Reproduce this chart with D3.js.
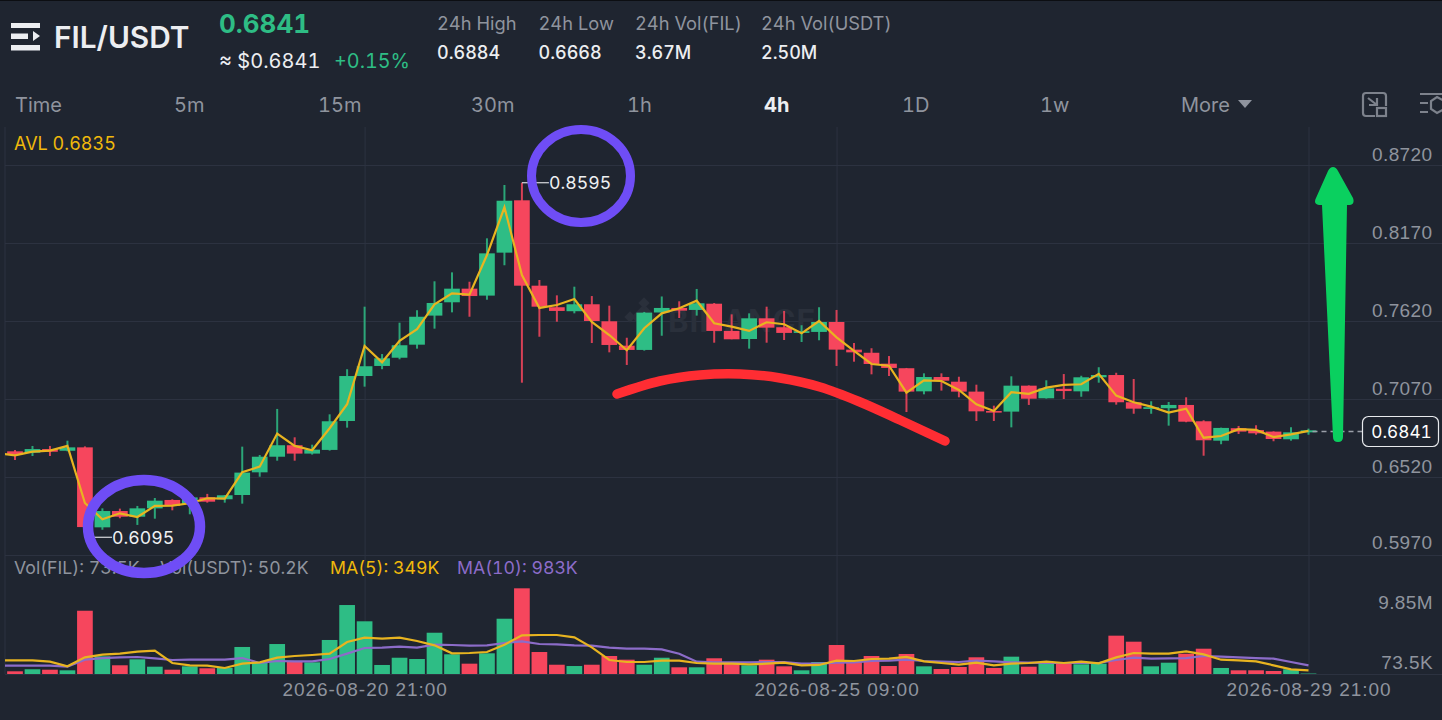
<!DOCTYPE html>
<html><head><meta charset="utf-8">
<script src="https://cdn.jsdelivr.net/npm/d3@7/dist/d3.min.js"></script>
<style>
html,body{margin:0;padding:0;background:#1f2530;overflow:hidden}
svg{display:block;font-family:Inter,"Open Sans",sans-serif;font-variant-numeric:tabular-nums}
</style></head><body><svg id="c" width="1442" height="720"></svg>
<script>
const opens=[.6701,.6691,.6717,.6705,.6729,.6165,.6280,.6240,.6299,.6358,.6330,.6377,.6363,.6393,.6553,.6663,.6744,.6685,.6711,.6915,.7232,.7303,.7361,.7453,.7658,.7752,.7848,.7799,.8102,.8471,.7869,.7717,.7689,.7738,.7618,.7446,.7416,.7680,.7712,.7698,.7742,.7550,.7493,.7639,.7576,.7536,.7543,.7613,.7418,.7396,.7319,.7287,.7124,.7225,.7192,.7122,.6985,.6981,.7164,.7075,.7142,.7124,.7223,.7239,.7047,.7000,.7005,.7028,.6913,.6776,.6864,.6851,.6840,.6786,.6835];
const highs=[.6710,.6739,.6739,.6776,.6736,.6299,.6297,.6316,.6372,.6363,.6379,.6401,.6393,.6734,.6675,.7000,.6800,.6748,.6962,.7280,.7721,.7387,.7608,.7696,.7900,.7963,.7897,.8203,.8579,.8595,.7909,.7801,.7862,.7796,.7728,.7502,.7684,.7793,.7759,.7846,.7747,.7667,.7674,.7721,.7691,.7590,.7717,.7698,.7465,.7428,.7373,.7289,.7251,.7251,.7227,.7171,.7023,.7230,.7166,.7202,.7246,.7234,.7294,.7255,.7211,.7054,.7049,.7082,.6920,.6868,.6880,.6885,.6842,.6871,.6861];
const lows=[.6640,.6668,.6668,.6701,.6160,.6148,.6229,.6182,.6226,.6285,.6257,.6339,.6339,.6332,.6522,.6635,.6635,.6678,.6706,.6868,.7157,.7280,.7350,.7425,.7566,.7681,.7650,.7770,.8013,.7185,.7509,.7615,.7674,.7465,.7399,.7310,.7411,.7516,.7641,.7658,.7467,.7491,.7425,.7467,.7486,.7472,.7484,.7303,.7333,.7244,.7232,.6978,.7103,.7129,.7082,.6915,.6915,.6870,.7028,.7073,.7070,.7086,.7185,.7030,.6966,.6966,.6882,.6906,.6670,.6751,.6823,.6818,.6772,.6776,.6818];
const closes=[.6682,.6717,.6698,.6729,.6167,.6280,.6240,.6299,.6353,.6316,.6376,.6346,.6391,.6551,.6663,.6744,.6685,.6713,.6913,.7232,.7301,.7357,.7449,.7650,.7747,.7848,.7796,.8097,.8468,.7869,.7721,.7691,.7738,.7620,.7451,.7416,.7679,.7712,.7693,.7745,.7550,.7491,.7639,.7573,.7536,.7548,.7613,.7418,.7399,.7317,.7289,.7122,.7225,.7199,.7122,.6983,.6974,.7164,.7072,.7145,.7126,.7223,.7239,.7047,.7002,.7012,.7028,.6910,.6779,.6866,.6840,.6828,.6788,.6835,.6849];
// first value of the three lines belongs to the candle just left of the visible window
const avl=[.6687,.6673,.6699,.6706,.6739,.6337,.6222,.6264,.6238,.6316,.6318,.6335,.6370,.6367,.6554,.6593,.6826,.6739,.6709,.6864,.7033,.7444,.7329,.7481,.7562,.7738,.7815,.7806,.8085,.8422,.7944,.7712,.7733,.7775,.7613,.7521,.7414,.7569,.7674,.7710,.7763,.7604,.7580,.7550,.7611,.7597,.7533,.7620,.7505,.7409,.7317,.7305,.7115,.7202,.7197,.7134,.7033,.6986,.7118,.7106,.7150,.7169,.7174,.7247,.7094,.7047,.7016,.6974,.7002,.6797,.6809,.6857,.6852,.6802,.6821,.6845];
const volumes=[.44,.77,.70,.60,10.3,2.88,1.42,2.39,1.19,.70,1.25,.93,.98,4.40,1.79,4.88,2.07,1.90,5.54,11.23,8.58,1.47,2.65,2.44,6.72,3.21,1.68,3.37,9.00,13.95,3.58,1.51,1.30,1.51,2.93,2.33,1.51,2.65,1.09,1.09,2.56,1.79,1.42,2.33,1.25,.60,1.95,4.72,1.90,2.93,1.30,3.26,1.25,.81,1.14,2.72,.98,2.82,1.19,1.79,1.79,1.58,1.68,6.24,5.26,1.25,1.84,3.30,4.12,.98,.60,.60,.49,.77,.0735];
const ma5=[2.23,2.23,2.23,2.01,1.25,2.71,3.15,3.31,3.64,3.80,1.79,1.41,1.36,.98,1.68,1.90,2.66,2.93,3.09,3.31,5.21,5.92,5.75,5.92,5.37,4.67,3.36,3.42,3.58,4.78,6.30,6.35,6.35,5.97,4.34,2.28,1.95,1.95,2.17,2.17,1.79,1.68,1.68,1.57,1.68,1.85,1.41,1.47,2.17,2.12,2.44,2.50,2.77,2.06,1.79,1.52,1.85,1.41,1.68,1.79,2.01,1.79,2.01,1.74,2.71,3.42,3.31,3.31,3.69,3.20,2.33,2.23,2.06,1.41,.76,.60];
const ma10=[1.36,1.36,1.36,1.36,1.19,2.33,2.60,2.71,2.77,2.55,2.28,2.33,2.33,2.33,2.60,1.79,2.12,2.06,2.06,2.44,3.31,4.23,4.29,4.45,4.29,4.78,4.72,4.61,4.67,5.05,5.32,4.88,4.83,4.67,4.61,4.29,4.12,4.12,4.02,3.31,2.01,1.90,1.90,1.90,1.95,1.95,1.68,1.68,1.85,1.90,2.12,2.17,2.33,2.12,2.01,1.95,2.17,2.06,1.90,1.85,1.79,1.79,1.79,1.79,2.28,2.66,2.50,2.55,2.60,2.93,2.82,2.71,2.60,2.50,1.95,1.41];
const priceTicks=[.8720,.8170,.7620,.7070,.6520,.5970];
const volTicks=[9.85,.0735];
const volTickLabels=["9.85M","73.5K"];
const timeIndex=[20,47,74];
const timeLabels=["2026-08-20 21:00","2026-08-25 09:00","2026-08-29 21:00"];
const tabs=["Time","5m","15m","30m","1h","4h","1D","1w","More"];
const statNames=["24h High","24h Low","24h Vol(FIL)","24h Vol(USDT)"];
const statValues=["0.6884","0.6668","3.67M","2.50M"];
const lastPrice=.6841, maxPrice=.8595, minPrice=.6095;

const G="#2ebd85",R="#f6465d",Y="#f0b90b",LINEY="#e8b420",P="#8c6cc9",GRID="#2c3240",MUTED="#8f949e";
const svg=d3.select("#c");
svg.append("rect").attr("width",1442).attr("height",720).attr("fill","#1f2530");
svg.append("rect").attr("width",1442).attr("height",1).attr("fill","#0c0e12");
const x=d3.scaleLinear().domain([0,74]).range([15,1308.5]);
const y=d3.scaleLinear().domain([.872,.597]).range([165,555]);
const v=d3.scaleLinear().domain([0,9.85]).range([674,613.5]);
const bw=15.7;

svg.append("defs").append("clipPath").attr("id","plot").append("rect").attr("x",5).attr("y",127).attr("width",1437).attr("height",560);

// time axis and verticals
const tAxis=d3.axisBottom(x).tickValues(timeIndex).tickFormat((d,i)=>timeLabels[i]).tickSize(547).tickPadding(6);
const gt=svg.append("g").attr("transform","translate(0,127)").call(tAxis);
gt.select(".domain").remove();
gt.selectAll("line").attr("stroke",GRID);
gt.selectAll("text").attr("fill",MUTED).attr("font-size",19).attr("letter-spacing",.95).attr("y",0).attr("dy",0).attr("transform","translate(0,569)");
svg.append("line").attr("x1",5).attr("x2",5).attr("y1",127).attr("y2",674).attr("stroke",GRID);

// price axis
const pAxis=d3.axisRight(y).tickValues(priceTicks).tickFormat(d3.format(".4f")).tickSize(1437);
const gp=svg.append("g").attr("transform","translate(5,0)").call(pAxis);
gp.select(".domain").remove();
gp.selectAll("line").attr("stroke",GRID);
gp.selectAll("text").attr("fill",MUTED).attr("font-size",19).attr("letter-spacing",.4).attr("x",1367).attr("dy",(d,i)=>i===5?-7:-5);
// volume axis
const vAxis=d3.axisRight(v).tickValues(volTicks).tickFormat((d,i)=>volTickLabels[i]).tickSize(0);
const gv=svg.append("g").attr("transform","translate(5,0)").call(vAxis);
gv.select(".domain").remove();
gv.selectAll("text").attr("fill",MUTED).attr("font-size",19).attr("letter-spacing",.4).attr("text-anchor","end").attr("x",1428).attr("dy",-5);
svg.append("line").attr("x1",5).attr("x2",1442).attr("y1",674.5).attr("y2",674.5).attr("stroke",GRID);

// watermark
const wm=svg.append("g").attr("fill","#2a303b");
wm.append("text").attr("x",668).attr("y",332).attr("font-size",31).attr("font-weight",700).attr("letter-spacing",1).text("BINANCE");
[[644,317,9],[630,317,4],[644,303,4],[644,331,4]].forEach(d=>wm.append("rect").attr("x",d[0]-d[2]).attr("y",d[1]-d[2]).attr("width",2*d[2]).attr("height",2*d[2]).attr("transform",`rotate(45 ${d[0]} ${d[1]})`));

const plot=svg.append("g").attr("clip-path","url(#plot)");
const idx=d3.range(opens.length);
const col=i=>closes[i]>=opens[i]?G:R;
plot.selectAll(".w").data(idx).join("line").attr("x1",x).attr("x2",x).attr("y1",i=>y(highs[i])).attr("y2",i=>y(lows[i])).attr("stroke",col).attr("stroke-width",2).attr("opacity",.85);
plot.selectAll(".b").data(idx).join("rect").attr("x",i=>x(i)-bw/2).attr("width",bw).attr("y",i=>y(Math.max(opens[i],closes[i]))).attr("height",i=>Math.max(1.2,Math.abs(y(opens[i])-y(closes[i])))).attr("fill",col);
plot.selectAll(".vb").data(idx).join("rect").attr("x",i=>x(i)-bw/2).attr("width",bw).attr("y",i=>v(volumes[i])).attr("height",i=>674-v(volumes[i])).attr("fill",col);

const mk=(scale)=>d3.line().x((d,i)=>x(i-1)).y(d=>scale(d));
plot.append("path").attr("d",mk(v)(ma10)).attr("fill","none").attr("stroke",P).attr("stroke-width",2.2);
plot.append("path").attr("d",mk(v)(ma5)).attr("fill","none").attr("stroke",LINEY).attr("stroke-width",2.2);
plot.append("path").attr("d",mk(y)(avl)).attr("fill","none").attr("stroke",LINEY).attr("stroke-width",2.2);

// last price
svg.append("line").attr("x1",x(74)+4).attr("x2",1362).attr("y1",y(lastPrice)).attr("y2",y(lastPrice)).attr("stroke","#9a9fa8").attr("stroke-width",1.3).attr("stroke-dasharray","5 4");
svg.append("rect").attr("x",1362.5).attr("y",y(lastPrice)-15).attr("width",76).attr("height",30).attr("rx",6).attr("fill","#1f2530").attr("stroke","#e8eaed").attr("stroke-width",1.2);
svg.append("text").attr("x",1401.5).attr("y",y(lastPrice)+6.5).attr("text-anchor","middle").attr("fill","#fff").attr("font-size",17.2).text(d3.format(".4f")(lastPrice));

// extreme labels
svg.append("line").attr("x1",x(29)).attr("x2",x(29)+27).attr("y1",y(maxPrice)).attr("y2",y(maxPrice)).attr("stroke","#d8dade").attr("stroke-width",1.2);
svg.append("text").attr("x",549).attr("y",y(maxPrice)+6.5).attr("fill","#eef0f2").attr("font-size",17.7).text(d3.format(".4f")(maxPrice));
svg.append("line").attr("x1",x(4)).attr("x2",112).attr("y1",y(minPrice)).attr("y2",y(minPrice)).attr("stroke","#d8dade").attr("stroke-width",1.2);
svg.append("text").attr("x",112).attr("y",y(minPrice)+6.5).attr("fill","#eef0f2").attr("font-size",17.7).text(d3.format(".4f")(minPrice));

// legends
svg.append("text").attr("x",14).attr("y",150).attr("fill",Y).attr("font-size",18).text("AVL 0.6835");
const lg=[[14,"Vol(FIL): 73.5K",MUTED],[160,"Vol(USDT): 50.2K",MUTED],[330,"MA(5): 349K",Y],[457,"MA(10): 983K",P]];
lg.forEach(d=>svg.append("text").attr("x",d[0]).attr("y",574).attr("fill",d[2]).attr("font-size",17.7).text(d[1]));

// hand annotations
svg.append("ellipse").attr("cx",144).attr("cy",526.5).attr("rx",56).attr("ry",46.5).attr("fill","none").attr("stroke","#6f4df6").attr("stroke-width",10.5);
svg.append("ellipse").attr("cx",581).attr("cy",176).attr("rx",49.5).attr("ry",46.5).attr("fill","none").attr("stroke","#6f4df6").attr("stroke-width",9);
const redPts=[[617,394],[660,381],[700,375],[740,374],[780,378],[820,387],[860,402],[900,420],[945,441]];
svg.append("path").attr("d",d3.line().curve(d3.curveCatmullRom)(redPts)).attr("fill","none").attr("stroke","#ff2d33").attr("stroke-width",9.5).attr("stroke-linecap","round");
svg.append("path").attr("d","M1333 167 Q1336 167 1338 171 L1353 198 Q1355 204 1350 205 L1347 205 L1343 437 Q1343 442 1338 442 Q1333 442 1333 437 L1322 205 L1319 205 Q1313 204 1316 198 L1328 171 Q1330 167 1333 167Z").attr("fill","#0ad05f");

// header
const ic=svg.append("g").attr("fill","#eceef1");
[[11,23,29,5],[11,33.5,17,5.5],[11,45,29,5.5]].forEach(d=>ic.append("rect").attr("x",d[0]).attr("y",d[1]).attr("width",d[2]).attr("height",d[3]));
ic.append("path").attr("d","M33 31 L40 36 L33 41Z");
svg.append("text").attr("x",54).attr("y",48).attr("fill","#eceef1").attr("font-size",29.8).attr("font-weight",600).text("FIL/USDT");
svg.append("text").attr("x",219).attr("y",33).attr("fill",G).attr("font-size",26).attr("font-weight",700).text("0.6841");
svg.append("text").attr("x",219).attr("y",68).attr("fill","#eceef1").attr("font-size",20).text("≈ $0.6841");
svg.append("text").attr("x",334).attr("y",68).attr("fill",G).attr("font-size",19.8).text("+0.15%");
const sx=[437,538.5,635,761];
statNames.forEach((s,i)=>{
 svg.append("text").attr("x",sx[i]).attr("y",30).attr("fill",MUTED).attr("font-size",18.3).text(s);
 svg.append("text").attr("x",sx[i]).attr("y",59).attr("fill","#eceef1").attr("font-size",18).attr("font-weight",500).text(statValues[i]);
});
const tx=[15,174,318,471,627,764,902,1040,1181];
tabs.forEach((s,i)=>svg.append("text").attr("x",tx[i]).attr("y",112).attr("fill",s==="4h"?"#eceef1":MUTED).attr("font-weight",s==="4h"?700:400).attr("font-size",20).text(s));
svg.append("path").attr("d","M1238 100 L1252 100 L1245 108Z").attr("fill",MUTED);
// toolbar icons
const ti=svg.append("g").attr("fill","none").attr("stroke","#7d828c").attr("stroke-width",2.2);
ti.append("path").attr("d","M1375 116 L1366 116 Q1363 116 1363 113 L1363 96 Q1363 93 1366 93 L1383 93 Q1386 93 1386 96 L1386 106");
ti.append("rect").attr("x",1377).attr("y",108).attr("width",9).attr("height",8);
ti.append("path").attr("d","M1368 98 L1377 105 M1369 105 L1377 105 L1377 98");
ti.append("path").attr("d","M1420 94 L1442 94 M1420 103 L1428 103 M1420 112 L1428 112");
ti.append("path").attr("d","M1437 97 L1444 101 L1444 109 L1437 113 L1431 109 L1431 101Z");
</script></body></html>
